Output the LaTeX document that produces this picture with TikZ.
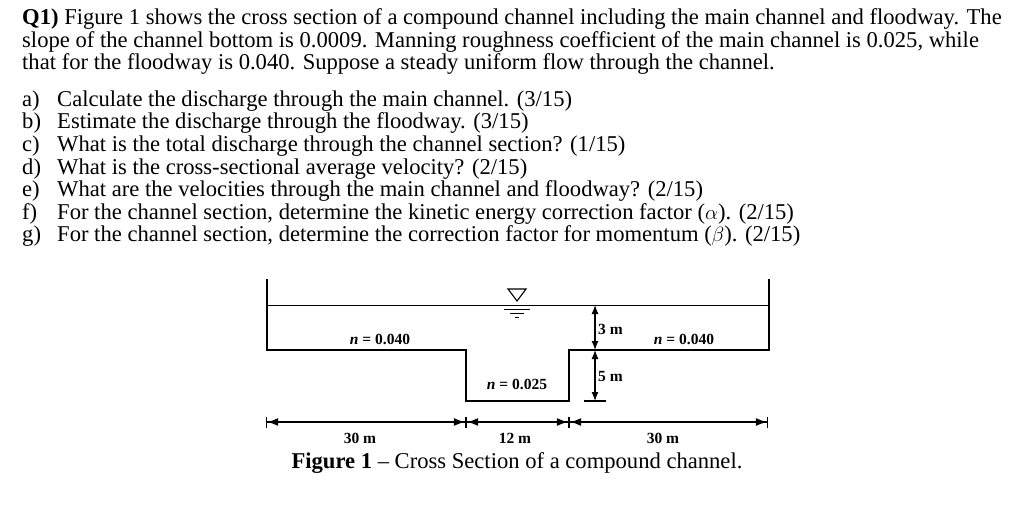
\documentclass[tikz,border=0pt]{standalone}
\usepackage{fontspec}
\setmainfont{Liberation Serif}
\usetikzlibrary{arrows.meta}
\begin{document}
\begin{tikzpicture}[x=1pt,y=-1pt,
  txt/.style={anchor=base west,inner sep=0,font=\fontsize{22.6}{24}\selectfont},
  lbl/.style={inner sep=0,font=\fontsize{15.5}{17}\selectfont\bfseries},
  wall/.style={line width=2.4pt},
  dim/.style={line width=1.2pt,{Bar[width=11pt]Latex[length=11pt,width=8pt]}-{Latex[length=11pt,width=8pt]Bar[width=11pt]}},
  vdim/.style={line width=1.2pt,{Latex[length=9pt,width=7pt]}-{Latex[length=9pt,width=7pt]}}]
\useasboundingbox (0,0) rectangle (1024,509);
\node[txt] (l1) at (22,24) {\textbf{Q1)} Figure 1 shows the cross section of a compound channel including the main channel and floodway. The};
\node[txt] (l2) at (22,47) {slope of the channel bottom is 0.0009. Manning roughness coefficient of the main channel is 0.025, while};
\node[txt] (l3) at (22,69) {that for the floodway is 0.040. Suppose a steady uniform flow through the channel.};
\node[txt] (ka) at (22,106) {a)}; \node[txt] (ta) at (57,106) {Calculate the discharge through the main channel. (3/15)};
\node[txt] (kb) at (22,128) {b)}; \node[txt] (tb) at (57,128) {Estimate the discharge through the floodway. (3/15)};
\node[txt] (kc) at (22,151) {c)}; \node[txt] (tc) at (57,151) {What is the total discharge through the channel section? (1/15)};
\node[txt] (kd) at (22,174) {d)}; \node[txt] (td) at (57,174) {What is the cross-sectional average velocity? (2/15)};
\node[txt] (ke) at (22,196) {e)}; \node[txt] (te) at (57,196) {What are the velocities through the main channel and floodway? (2/15)};
\node[txt] (kf) at (22,219) {f)}; \node[txt] (tf) at (57,219) {For the channel section, determine the kinetic energy correction factor ($\alpha$). (2/15)};
\node[txt] (kg) at (22,241) {g)}; \node[txt] (tg) at (57,241) {For the channel section, determine the correction factor for momentum ($\beta$). (2/15)};
% channel
\draw[wall] (267,279) -- (267,350) -- (466,350) -- (466,401) -- (569,401) -- (569,350) -- (769,350) -- (769,279);
\draw[line width=0.6pt] (267,305) -- (769,305);
% water symbol
\draw[line width=1.1pt] (508,289) -- (526,289) -- (517,301) -- cycle;
\draw[line width=0.8pt] (504,309) -- (530,309) (510,313) -- (524,313) (515,317) -- (519,317);
% vertical dims
\coordinate (v1) at (595,305); \coordinate (v2) at (595,350); \coordinate (v3) at (595,401);
\draw[vdim] (v1) -- (v2);
\draw[vdim] (v2) -- (v3);
\draw[line width=2pt] (584,401) -- (606,401);
\node[lbl,anchor=west] (m3) at (598,329) {3 m};
\node[lbl,anchor=west] (m5) at (598,376) {5 m};
\node[lbl] (n1) at (380,339) {\textit{n} = 0.040};
\node[lbl] (n2) at (684,339) {\textit{n} = 0.040};
\node[lbl] (n3) at (517,384) {\textit{n} = 0.025};
% horizontal dims
\coordinate (h0) at (266,422); \coordinate (h1) at (466,422); \coordinate (h2) at (569,422); \coordinate (h3) at (768,422);
\draw[dim] (h0) -- (h1);
\draw[dim] (h1) -- (h2);
\draw[dim] (h2) -- (h3);
\node[lbl] (w1) at (360,438) {30 m};
\node[lbl] (w2) at (515,438) {12 m};
\node[lbl] (w3) at (663,438) {30 m};
\node[inner sep=0,font=\fontsize{22.6}{24}\selectfont] (cap) at (517,463) {\textbf{Figure 1} -- Cross Section of a compound channel.};
\end{tikzpicture}
\end{document}
